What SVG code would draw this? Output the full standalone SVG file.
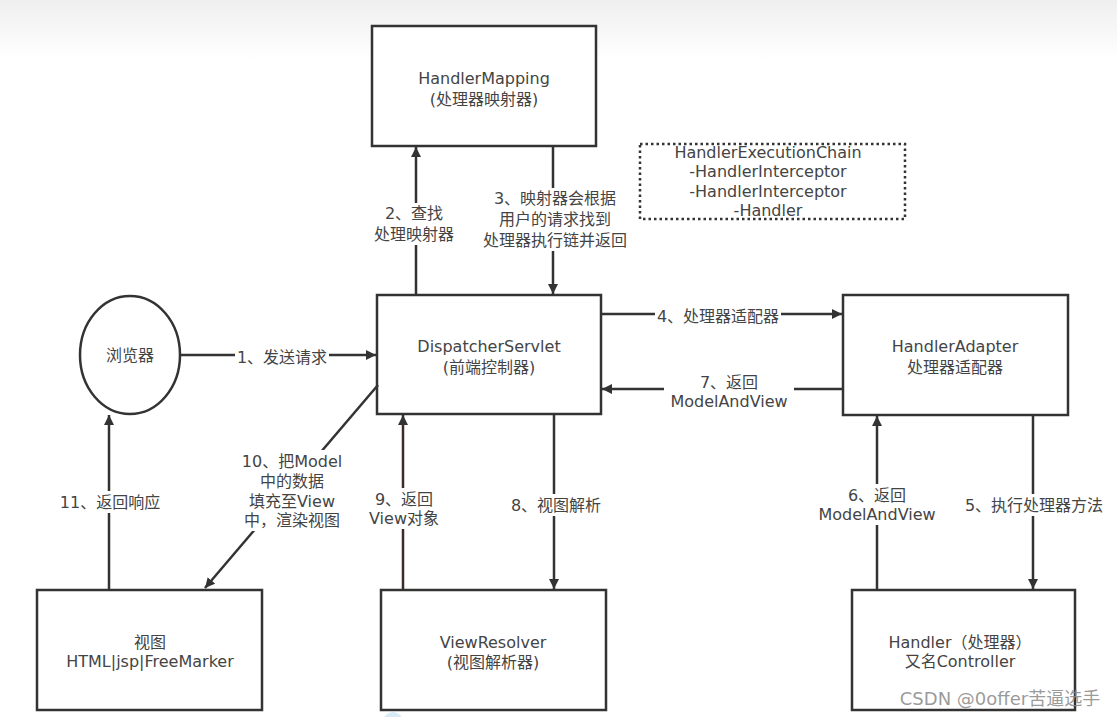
<svg xmlns="http://www.w3.org/2000/svg" width="1117" height="717" viewBox="0 0 1117 717">
<defs>
<linearGradient id="bg" x1="0" y1="0" x2="0" y2="1">
<stop offset="0" stop-color="#efefef"/>
<stop offset="1" stop-color="#ffffff"/>
</linearGradient>
<marker id="ah" viewBox="0 0 10 10" refX="10" refY="5" markerWidth="10" markerHeight="10" markerUnits="userSpaceOnUse" orient="auto">
<path d="M0,0 L10,5 L0,10 z" fill="#333"/>
</marker>
<style>
.box{fill:#fff;stroke:#333;stroke-width:2.5}
.t{font-family:"DejaVu Sans","Noto Sans CJK SC",sans-serif;font-size:16px;fill:#444;text-anchor:middle}
.ln{stroke:#333;stroke-width:2.5;fill:none;marker-end:url(#ah)}
.bgw{fill:#fff}
</style>
</defs>
<rect x="0" y="0" width="1117" height="60" fill="url(#bg)"/>
<rect x="0" y="60" width="1117" height="657" fill="#fff"/>

<g id="handlerMapping">
<rect class="box" x="372" y="26" width="224" height="120"/>
<text class="t" x="484" y="84">HandlerMapping</text>
<text class="t" x="484" y="105">(处理器映射器)</text>
</g>

<g id="chain">
<rect x="640" y="144" width="265" height="75" fill="none" stroke="#333" stroke-width="2.5" stroke-dasharray="2.5,3"/>
<text class="t" x="768" y="158">HandlerExecutionChain</text>
<text class="t" x="768" y="177">-HandlerInterceptor</text>
<text class="t" x="768" y="197">-HandlerInterceptor</text>
<text class="t" x="768" y="216">-Handler</text>
</g>

<g id="browser">
<ellipse cx="130" cy="355" rx="50" ry="59" fill="#fff" stroke="#333" stroke-width="2.5"/>
<text class="t" x="130" y="361">浏览器</text>
</g>

<g id="dispatcher">
<rect class="box" x="377" y="295" width="224" height="119"/>
<text class="t" x="489" y="352">DispatcherServlet</text>
<text class="t" x="489" y="373">(前端控制器)</text>
</g>

<g id="handlerAdapter">
<rect class="box" x="843" y="295" width="225" height="120"/>
<text class="t" x="955" y="352">HandlerAdapter</text>
<text class="t" x="955" y="373">处理器适配器</text>
</g>

<g id="view">
<rect class="box" x="37" y="590" width="225" height="120"/>
<text class="t" x="150" y="648">视图</text>
<text class="t" x="150" y="667">HTML|jsp|FreeMarker</text>
</g>

<g id="viewResolver">
<rect class="box" x="381" y="590" width="225" height="120"/>
<text class="t" x="493" y="648">ViewResolver</text>
<text class="t" x="493" y="668">(视图解析器)</text>
</g>

<g id="handler">
<rect class="box" x="852" y="590" width="223" height="120"/>
<text class="t" x="960" y="648">Handler（处理器）</text>
<text class="t" x="960" y="667">又名Controller</text>
</g>

<g id="connectors">
<line class="ln" x1="416" y1="295" x2="416" y2="147"/>
<line class="ln" x1="553" y1="146" x2="553" y2="294"/>
<line class="ln" x1="180" y1="355" x2="376" y2="355"/>
<line class="ln" x1="601" y1="314" x2="842" y2="314"/>
<line class="ln" x1="843" y1="389" x2="602" y2="389"/>
<line class="ln" x1="378" y1="385" x2="205" y2="588"/>
<line class="ln" x1="403" y1="590" x2="403" y2="415" style="stroke:#3d2b2b"/>
<line class="ln" x1="554" y1="414" x2="554" y2="589"/>
<line class="ln" x1="109" y1="590" x2="109" y2="415"/>
<line class="ln" x1="877" y1="590" x2="877" y2="416"/>
<line class="ln" x1="1033" y1="415" x2="1033" y2="589"/>

<rect class="bgw" x="374" y="203" width="82" height="42"/>
<text class="t" x="414" y="219">2、查找</text>
<text class="t" x="414" y="240">处理映射器</text>

<rect class="bgw" x="478" y="188" width="154" height="63"/>
<text class="t" x="555" y="204">3、映射器会根据</text>
<text class="t" x="555" y="225">用户的请求找到</text>
<text class="t" x="555" y="246">处理器执行链并返回</text>

<rect class="bgw" x="235" y="346" width="94" height="22"/>
<text class="t" x="282" y="363">1、发送请求</text>

<rect class="bgw" x="655" y="305" width="126" height="22"/>
<text class="t" x="718" y="322">4、处理器适配器</text>

<rect class="bgw" x="664" y="371" width="130" height="41"/>
<text class="t" x="729" y="388">7、返回</text>
<text class="t" x="729" y="407">ModelAndView</text>

<rect class="bgw" x="236" y="450" width="112" height="81"/>
<text class="t" x="292" y="467">10、把Model</text>
<text class="t" x="292" y="487">中的数据</text>
<text class="t" x="292" y="507">填充至View</text>
<text class="t" x="292" y="526">中，渲染视图</text>

<rect class="bgw" x="366" y="488" width="76" height="41"/>
<text class="t" x="404" y="505">9、返回</text>
<text class="t" x="404" y="524">View对象</text>

<rect class="bgw" x="508" y="494" width="96" height="22"/>
<text class="t" x="556" y="511">8、视图解析</text>

<rect class="bgw" x="56" y="491" width="108" height="22"/>
<text class="t" x="110" y="508">11、返回响应</text>

<rect class="bgw" x="812" y="484" width="130" height="41"/>
<text class="t" x="877" y="501">6、返回</text>
<text class="t" x="877" y="520">ModelAndView</text>

<rect class="bgw" x="964" y="494" width="140" height="22"/>
<text class="t" x="1034" y="511">5、执行处理器方法</text>
</g>

<circle cx="393" cy="722" r="10" fill="#d8ecf8"/>
<text x="1000" y="705" font-family="DejaVu Sans,Noto Sans CJK SC,sans-serif" font-size="18" fill="#888" fill-opacity="0.85" text-anchor="middle">CSDN @0offer苦逼选手</text>
</svg>
